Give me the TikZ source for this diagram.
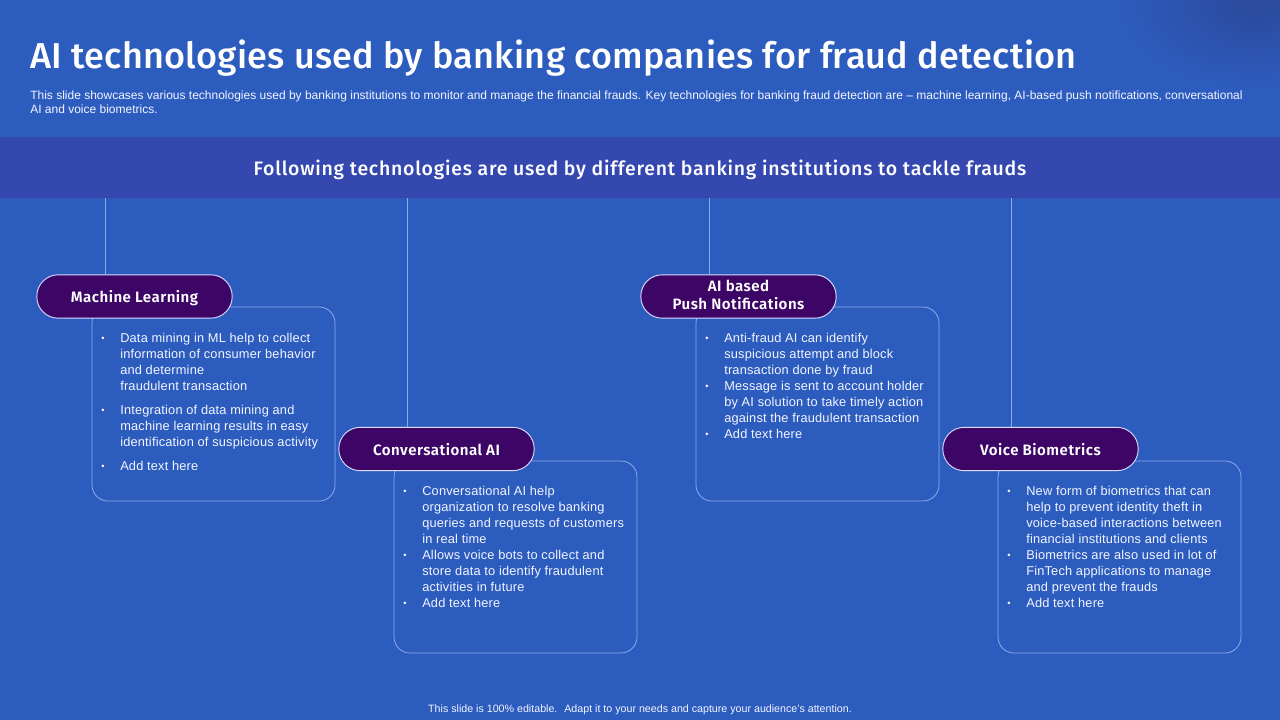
\documentclass[tikz,border=0pt]{standalone}
\usepackage{fontspec}
\setmainfont{Liberation Sans}
\newfontfamily\titlefont[LetterSpace=0.75]{Fira Sans Medium}
\newfontfamily\bandfont[LetterSpace=3.9]{Fira Sans Medium}
\newfontfamily\pillfont[LetterSpace=3.2]{Fira Sans SemiBold}
\newfontfamily\bodyfont[LetterSpace=1.5]{Liberation Sans}
\definecolor{bgblue}{HTML}{2D5CBF}
\definecolor{cornerblue}{HTML}{2B4A9B}
\definecolor{bandblue}{HTML}{3448B0}
\definecolor{pillpurple}{HTML}{3D0566}
\definecolor{edgeblue}{HTML}{8FAAE8}
\definecolor{softwhite}{HTML}{F2F5FF}
\definecolor{pilledge}{HTML}{DCDCFF}
\tikzset{
  x=0.75pt,y=-0.75pt,
  connector/.style={draw=edgeblue,line width=0.75pt},
  card/.style={draw=edgeblue,line width=0.6pt,rounded corners=12pt,fill=bgblue},
  pill/.style={draw=pilledge,line width=0.7pt,rounded corners=16pt,fill=pillpurple,minimum width=146.5pt,minimum height=32.5pt,inner sep=0pt,align=center,text=white,font=\pillfont\fontsize{11.3}{14.2}\selectfont},
  oneline/.style={text height=9pt,text depth=0pt},
  twoline/.style={text depth=2.6pt},
  body/.style={anchor=north west,align=left,inner sep=0pt,yshift=-1.5pt,text=softwhite,font=\bodyfont\fontsize{9.6}{12}\selectfont},
  bullet/.style={anchor=north west,inner sep=0pt,yshift=-3pt,text=softwhite,font=\fontsize{7}{12}\selectfont},
}
\begin{document}
\begin{tikzpicture}
\useasboundingbox (0,0) rectangle (1280,720);
\fill[bgblue] (0,0) rectangle (1280,720);
\begin{scope}
\clip (1060,0) rectangle (1280,135);
\shade[inner color=cornerblue,outer color=bgblue] (1255,5) ellipse [x radius=140,y radius=85];
\end{scope}
\fill[bandblue] (0,137) rectangle (1280,198);
\coordinate (bandA) at (105.5,198);
\coordinate (bandB) at (407.5,198);
\coordinate (bandC) at (709.5,198);
\coordinate (bandD) at (1011.5,198);

\node[anchor=base west,inner sep=0pt,text=white,font=\titlefont\fontsize{27}{30}\selectfont] (title) at (30,69) {AI technologies used by banking companies for fraud detection};
\node[anchor=north west,align=left,inner sep=0pt,text=softwhite,font=\fontsize{9}{10.5}\selectfont] (sub) at (30,91) {This slide showcases various technologies used by banking institutions to monitor and manage the financial frauds. Key technologies for banking fraud detection are -- machine learning, AI-based push notifications, conversational\\AI and voice biometrics.};
\node[anchor=center,inner sep=0pt,text=white,font=\bandfont\fontsize{14.6}{18}\selectfont] (band) at (640,170) {Following technologies are used by different banking institutions to tackle frauds};

% Cards
\draw[card] (92,307) rectangle (335,501);
\draw[card] (394,461) rectangle (637,653);
\draw[card] (696,307) rectangle (939,501);
\draw[card] (998,461) rectangle (1241,653);

% Pills
\node[pill,oneline] (pillA) at (134.5,296.5) {Machine Learning};
\node[pill,oneline] (pillB) at (436.5,449) {Conversational AI};
\node[pill,twoline] (pillC) at (738.5,296.5) {AI based\\Push Notifications};
\node[pill,oneline] (pillD) at (1040.5,449) {Voice Biometrics};

% Connectors
\draw[connector] (bandA) -- (bandA |- pillA.north);
\draw[connector] (bandB) -- (bandB |- pillB.north);
\draw[connector] (bandC) -- (bandC |- pillC.north);
\draw[connector] (bandD) -- (bandD |- pillD.north);

% Card 1 text
\node[bullet] (a1) at (101,333) {•};
\node[body] (at1) at (120,331) {Data mining in ML help to collect\\information of consumer behavior\\and determine\\fraudulent transaction};
\node[bullet] (a2) at (101,405) {•};
\node[body] (at2) at (120,403) {Integration of data mining and\\machine learning results in easy\\identification of suspicious activity};
\node[bullet] (a3) at (101,461) {•};
\node[body] (at3) at (120,459) {Add text here};

% Card 2 text
\node[bullet] (b1) at (403,486) {•};
\node[body] (bt1) at (422,484) {Conversational AI help\\organization to resolve banking\\queries and requests of customers\\in real time};
\node[bullet] (b2) at (403,550) {•};
\node[body] (bt2) at (422,548) {Allows voice bots to collect and\\store data to identify fraudulent\\activities in future};
\node[bullet] (b3) at (403,598) {•};
\node[body] (bt3) at (422,596) {Add text here};

% Card 3 text
\node[bullet] (c1) at (705,333) {•};
\node[body] (ct1) at (724,331) {Anti-fraud AI can identify\\suspicious attempt and block\\transaction done by fraud};
\node[bullet] (c2) at (705,381) {•};
\node[body] (ct2) at (724,379) {Message is sent to account holder\\by AI solution to take timely action\\against the fraudulent transaction};
\node[bullet] (c3) at (705,429) {•};
\node[body] (ct3) at (724,427) {Add text here};

% Card 4 text
\node[bullet] (d1) at (1007,486) {•};
\node[body] (dt1) at (1026,484) {New form of biometrics that can\\help to prevent identity theft in\\voice-based interactions between\\financial institutions and clients};
\node[bullet] (d2) at (1007,550) {•};
\node[body] (dt2) at (1026,548) {Biometrics are also used in lot of\\FinTech applications to manage\\and prevent the frauds};
\node[bullet] (d3) at (1007,598) {•};
\node[body] (dt3) at (1026,596) {Add text here};

\node[anchor=center,inner sep=0pt,text=softwhite,font=\fontsize{8}{10}\selectfont] (foot) at (640,710) {This slide is 100\% editable. \ Adapt it to your needs and capture your audience's attention.};
\end{tikzpicture}
\end{document}
